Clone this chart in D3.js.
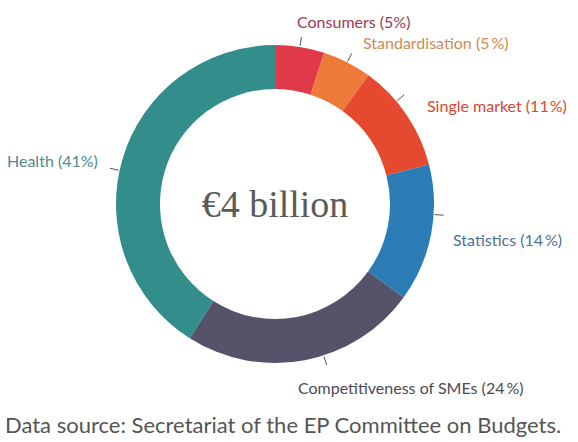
<!DOCTYPE html>
<html>
<head>
<meta charset="utf-8">
<script src="https://cdn.jsdelivr.net/npm/d3@7"></script>
<style>
  body { margin: 0; background: #fff; }
</style>
</head>
<body>
<div id="chart"></div>
<script>
// budget shares, clockwise from 12 o'clock
const categories = ["Consumers", "Standardisation", "Single market", "Statistics", "Competitiveness of SMEs", "Health"];
const shares = [5, 5, 11, 14, 24, 41];
const shareLabels = ["(5%)", "(5\u2009%)", "(11\u200a%)", "(14\u2009%)", "(24\u2009%)", "(41%)"];
const totalLabel = "€4 billion";
const sourceNote = "Data source: Secretariat of the EP Committee on Budgets.";

const sliceColors = ["#e03a4a", "#ee7a3a", "#e54a30", "#2b7bb4", "#545369", "#338d8b"];
const textColors = ["#9c3a4e", "#cf8a52", "#d8462f", "#4e7196", "#4b4a55", "#4f8a8c"];

const width = 578, height = 442;
const cx = 275, cy = 204;
const outerR = 159, innerR = 115;

// label text anchor (start x, baseline y) and a small angular nudge for the tick
const labelLayout = [
    { x: 297, y: 28, nudge: 0 },
    { x: 363, y: 49, nudge: 0 },
    { x: 427, y: 112, nudge: -6 },
    { x: 453, y: 246, nudge: -7 },
    { x: 298, y: 394, nudge: -7 },
    { x: 7, y: 167, nudge: -4 }
];

const svg = d3.select("#chart").append("svg").attr("width", width).attr("height", height);
const g = svg.append("g").attr("transform", `translate(${cx},${cy})`);

const data = categories.map((c, i) => ({ name: c, value: shares[i], i }));
const pie = d3.pie().value(d => d.value).sort(null);
const arcs = pie(data);
const arc = d3.arc().innerRadius(innerR).outerRadius(outerR);

g.selectAll("path.slice").data(arcs).enter().append("path")
    .attr("class", "slice")
    .attr("d", arc)
    .attr("fill", d => sliceColors[d.data.i]);

// short leader ticks just outside the ring
arcs.forEach(d => {
    const a = (d.startAngle + d.endAngle) / 2 + labelLayout[d.data.i].nudge * Math.PI / 180;
    const r0 = outerR + 1, r1 = outerR + 10;
    g.append("line")
        .attr("x1", Math.sin(a) * r0).attr("y1", -Math.cos(a) * r0)
        .attr("x2", Math.sin(a) * r1).attr("y2", -Math.cos(a) * r1)
        .attr("stroke", "#555").attr("stroke-width", 1);
});

categories.forEach((c, i) => {
    svg.append("text")
        .attr("x", labelLayout[i].x).attr("y", labelLayout[i].y)
        .style("font-family", "Lato, 'Open Sans', sans-serif")
        .style("font-size", "16px")
        .style("fill", textColors[i])
        .text(`${c} ${shareLabels[i]}`);
});

svg.append("text")
    .attr("x", cx).attr("y", 217)
    .attr("text-anchor", "middle")
    .style("font-family", "'Liberation Serif', serif")
    .style("font-size", "38px")
    .style("fill", "#5b5b57")
    .text(totalLabel);

svg.append("text")
    .attr("x", 5).attr("y", 433)
    .style("font-family", "Lato, 'Open Sans', sans-serif")
    .style("font-size", "22px")
    .style("fill", "#555")
    .text(sourceNote);
</script>
</body>
</html>
